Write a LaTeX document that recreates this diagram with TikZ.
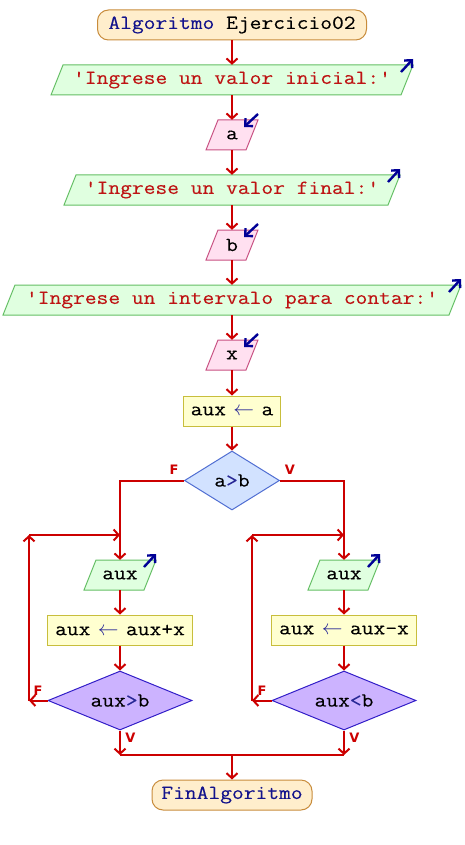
\documentclass[tikz,border=0pt]{standalone}
\usepackage{fontspec}
\setmonofont[FakeStretch=1.143,FakeBold=0.2]{Latin Modern Mono}
\setsansfont{DejaVu Sans}
\usetikzlibrary{arrows.meta,shapes.geometric}
\definecolor{lnred}{RGB}{204,0,0}
\definecolor{icblue}{RGB}{0,0,150}
\definecolor{kwblue}{RGB}{20,20,140}
\definecolor{strred}{RGB}{190,20,20}
\definecolor{opblue}{RGB}{40,40,150}
\definecolor{termfill}{RGB}{255,238,204}
\definecolor{termdraw}{RGB}{200,140,60}
\definecolor{outfill}{RGB}{224,255,224}
\definecolor{outdraw}{RGB}{100,190,100}
\definecolor{infill}{RGB}{255,224,240}
\definecolor{indraw}{RGB}{200,80,130}
\definecolor{procfill}{RGB}{255,255,208}
\definecolor{procdraw}{RGB}{200,190,60}
\definecolor{decfill}{RGB}{210,226,255}
\definecolor{decdraw}{RGB}{80,110,210}
\definecolor{loopfill}{RGB}{204,179,255}
\definecolor{loopdraw}{RGB}{50,30,200}
\newcommand\op[1]{\textcolor{opblue}{#1}}
\newcommand\asg{\makebox[12pt]{\textcolor{opblue}{$\leftarrow$}}}
% name, cx, cy, halfwidth, text
\newcommand\outbox[5]{%
  \path[outshape] ({#2-#4-6},{#3+15}) -- ({#2+#4-6},{#3+15}) -- ({#2+#4+6},{#3-15}) -- ({#2-#4+6},{#3-15}) -- cycle;
  \node[txt,minimum width={2*#4},minimum height=30] (#1) at (#2,#3) {#5};
  \draw[icon] ({#2+#4-6},{#3-8}) -- ({#2+#4+6},{#3-21});
}
\newcommand\inbox[5]{%
  \path[inshape] ({#2-#4-6},{#3+15}) -- ({#2+#4-6},{#3+15}) -- ({#2+#4+6},{#3-15}) -- ({#2-#4+6},{#3-15}) -- cycle;
  \node[txt,minimum width={2*#4},minimum height=30] (#1) at (#2,#3) {#5};
  \draw[icon] ({#2+#4+6},{#3-21}) -- ({#2+#4-8},{#3-8});
}
\begin{document}
\begin{tikzpicture}[x=1pt,y=-1pt,
  txt/.style={font=\ttfamily\fontsize{20}{22}\selectfont, inner sep=0pt},
  arr/.style={draw=lnred, line width=2pt, -{Straight Barb[length=5pt,width=11pt]}},
  ln/.style={draw=lnred, line width=2pt},
  icon/.style={draw=icblue, line width=2.4pt, -{Straight Barb[length=5.5pt,width=11pt]}},
  lbl/.style={text=lnred, font=\sffamily\bfseries\fontsize{13}{15}\selectfont, inner sep=0pt},
  term/.style={txt, draw=termdraw, fill=termfill, rounded corners=11pt, minimum height=30pt, line width=1pt},
  outshape/.style={draw=outdraw, fill=outfill, line width=1pt},
  inshape/.style={draw=indraw, fill=infill, line width=1pt},
  proc/.style={txt, rectangle, draw=procdraw, fill=procfill, minimum height=30pt, line width=1pt},
  dec1/.style={txt, diamond, aspect=2.4, draw=decdraw, fill=decfill, minimum width=95pt, minimum height=59pt, line width=1pt},
  dec2/.style={txt, diamond, aspect=2.4, draw=loopdraw, fill=loopfill, minimum width=144pt, minimum height=59pt, line width=1pt}
]
\useasboundingbox (0,0) rectangle (464,845);
\node[term, minimum width=269pt] (start) at (232,25) {\textcolor{kwblue}{Algoritmo} Ejercicio02};
\outbox{o1}{232}{80}{175}{\textcolor{strred}{'Ingrese un valor inicial:'}}
\inbox{i1}{232}{135}{20}{a}
\outbox{o2}{232}{190}{162}{\textcolor{strred}{'Ingrese un valor final:'}}
\inbox{i2}{232}{245}{20}{b}
\outbox{o3}{232}{300}{223}{\textcolor{strred}{'Ingrese un intervalo para contar:'}}
\inbox{i3}{232}{355}{20}{x}
\node[proc, minimum width=97pt] (p1) at (232,411) {aux \asg{} a};
\node[dec1] (d1) at (232,480.5) {a\op{>}b};
\outbox{o4}{120}{575}{30}{aux}
\outbox{o5}{344}{575}{30}{aux}
\node[proc, minimum width=145pt] (p2) at (120,630) {aux \asg{} aux+x};
\node[proc, minimum width=145pt] (p3) at (344,630) {aux \asg{} aux-x};
\node[dec2] (d2) at (120,700.5) {aux\op{>}b};
\node[dec2] (d3) at (344,700.5) {aux\op{<}b};
\node[term, minimum width=160pt] (end) at (232,795) {\textcolor{kwblue}{FinAlgoritmo}};
\coordinate (ll1) at (29,700.5);
\coordinate (ll2) at (29,535);
\coordinate (ll3) at (120,535);
\coordinate (rl1) at (252,700.5);
\coordinate (rl2) at (252,535);
\coordinate (rl3) at (344,535);
\coordinate (jl) at (120,755);
\coordinate (jr) at (344,755);
\coordinate (jm) at (232,755);
\draw[arr] (start.south) -- (o1.north);
\draw[arr] (o1.south) -- (i1.north);
\draw[arr] (i1.south) -- (o2.north);
\draw[arr] (o2.south) -- (i2.north);
\draw[arr] (i2.south) -- (o3.north);
\draw[arr] (o3.south) -- (i3.north);
\draw[arr] (i3.south) -- (p1.north);
\draw[arr] (p1.south) -- (d1.north);
\draw[arr] (d1.west) -| (o4.north);
\draw[arr] (d1.east) -| (o5.north);
\draw[arr] (o4.south) -- (p2.north);
\draw[arr] (o5.south) -- (p3.north);
\draw[arr] (p2.south) -- (d2.north);
\draw[arr] (p3.south) -- (d3.north);
\draw[arr] (d2.west) -- (ll1);
\draw[arr] (ll1) -- (ll2);
\draw[arr] (ll2) -- (ll3);
\draw[arr] (d3.west) -- (rl1);
\draw[arr] (rl1) -- (rl2);
\draw[arr] (rl2) -- (rl3);
\draw[arr] (d2.south) -- (jl);
\draw[arr] (d3.south) -- (jr);
\draw[ln] (jl) -- (jr);
\draw[arr] (jm) -- (end.north);
\node[lbl] (lf1) at (174,470) {F};
\node[lbl] (lv1) at (290,470) {V};
\node[lbl] (lf2) at (38,691) {F};
\node[lbl] (lv2) at (130.5,738) {V};
\node[lbl] (lf3) at (262,691) {F};
\node[lbl] (lv3) at (354.5,738) {V};
\end{tikzpicture}
\end{document}
